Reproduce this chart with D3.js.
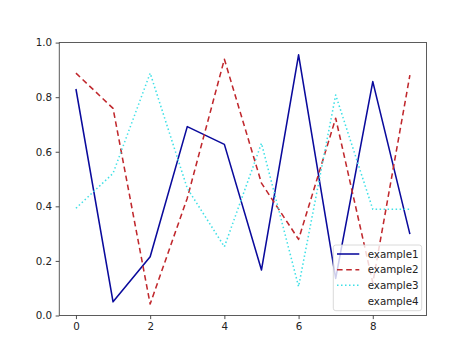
<!DOCTYPE html>
<html><head><meta charset="utf-8">
<script src="https://cdn.jsdelivr.net/npm/d3@7"></script>
<style>body{margin:0;background:#fff}svg{display:block}text{font-family:"DejaVu Sans",sans-serif}</style>
</head><body>
<svg id="c" width="474" height="355"></svg>
<script>
const xs = [0,1,2,3,4,5,6,7,8,9];
const example1 = [0.83,0.05,0.215,0.692,0.627,0.167,0.955,0.136,0.857,0.298];
const example2 = [0.888,0.759,0.042,0.43,0.939,0.485,0.279,0.723,0.12,0.881];
const example3 = [0.393,0.521,0.888,0.466,0.252,0.631,0.106,0.808,0.389,0.389];
const example4 = [];
const seriesNames = ["example1","example2","example3","example4"];
const xTicks = [0,2,4,6,8];
const yTicks = [0,0.2,0.4,0.6,0.8,1.0];

const styles = [
  {color:"#0a0a9c", dash:null},
  {color:"#c0282d", dash:"5.6,3.6"},
  {color:"#3fe0e6", dash:"1.5,2.5"},
  {color:"none", dash:null}
];
const data = [example1, example2, example3, example4];

const L=59.25, R=426.6, T=42.6, B=315.5;
const svg = d3.select("#c");
const x = d3.scaleLinear().domain([-0.45,9.45]).range([L,R]);
const y = d3.scaleLinear().domain([0,1]).range([B,T]);

const line = d3.line().x((d,i)=>x(xs[i])).y(d=>y(d));
data.forEach((s,k)=>{
  if(!s.length) return;
  svg.append("path").datum(s).attr("d",line)
    .attr("fill","none").attr("stroke",styles[k].color).attr("stroke-width",1.55)
    .attr("stroke-dasharray",styles[k].dash)
    .attr("stroke-linejoin","round");
});

const xa = svg.append("g").attr("transform",`translate(0,${B})`)
  .call(d3.axisBottom(x).tickValues(xTicks).tickFormat(d3.format("d")).tickSize(3.6).tickPadding(3.5));
const ya = svg.append("g").attr("transform",`translate(${L},0)`)
  .call(d3.axisLeft(y).tickValues(yTicks).tickFormat(d3.format(".1f")).tickSize(3.6).tickPadding(3.5));
[xa,ya].forEach(a=>{
  a.select(".domain").remove();
  a.selectAll("text").attr("font-size",10.3).attr("fill","#222").attr("font-family","DejaVu Sans");
  a.selectAll("line").attr("stroke","#222").attr("stroke-width",0.8);
});
svg.append("rect").attr("x",L).attr("y",T).attr("width",R-L).attr("height",B-T)
  .attr("fill","none").attr("stroke","#333").attr("stroke-width",0.8);

// legend
const lg = svg.append("g");
lg.append("rect").attr("x",333.3).attr("y",245).attr("width",88.4).attr("height",65.7)
  .attr("rx",2.5).attr("fill","rgba(255,255,255,0.8)").attr("stroke","#d0d0d0").attr("stroke-width",0.8);
seriesNames.forEach((n,k)=>{
  const cy = 254 + k*15.65;
  if(styles[k].color!=="none"){
    lg.append("line").attr("x1",337).attr("x2",359.3).attr("y1",cy).attr("y2",cy)
      .attr("stroke",styles[k].color).attr("stroke-width",1.55).attr("stroke-dasharray",styles[k].dash);
  }
  lg.append("text").attr("x",367.7).attr("y",cy).attr("dy","0.36em")
    .attr("font-size",10.3).attr("fill","#222").text(n);
});
</script>
</body></html>
